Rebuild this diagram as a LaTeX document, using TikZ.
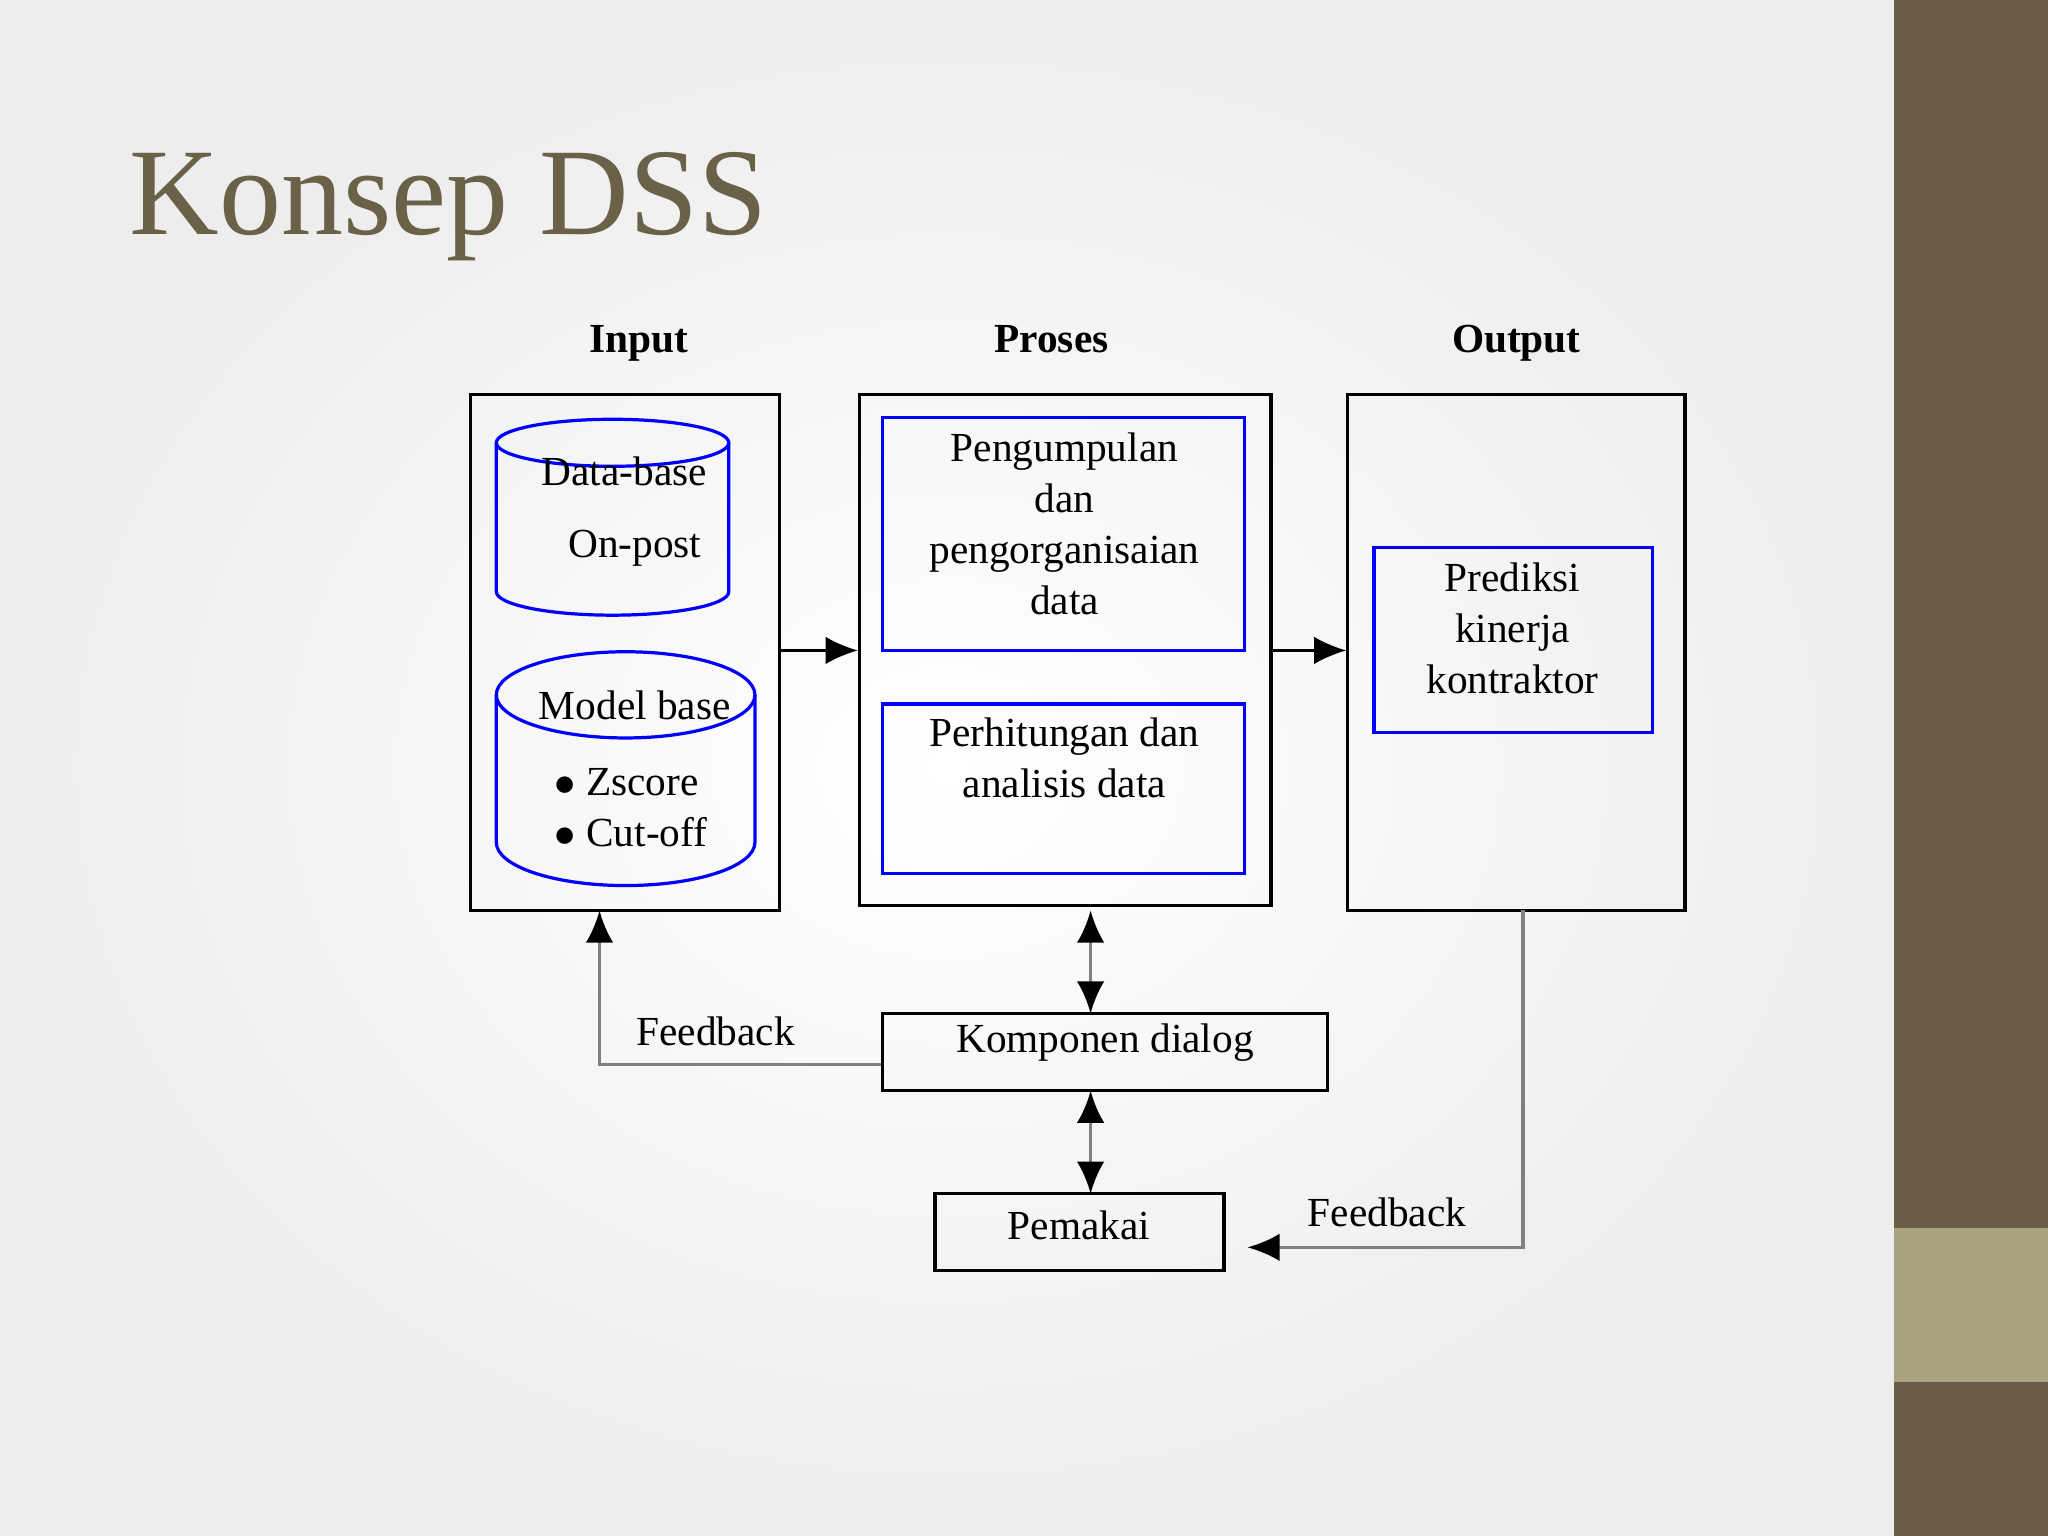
\documentclass[tikz,border=0pt]{standalone}
\usepackage{fontspec}
\setmainfont{Liberation Serif}
\usetikzlibrary{arrows.meta}
\definecolor{olive}{HTML}{6B5E48}
\definecolor{lolive}{HTML}{A9A27E}
\definecolor{ttl}{HTML}{6B6148}
\begin{document}
\begin{tikzpicture}[x=0.01cm,y=-0.01cm,
  box/.style={draw,line width=0.7pt,inner sep=0pt},
  bbox/.style={draw=blue,line width=0.7pt,inner sep=0pt},
  txt/.style={font=\fontsize{9}{11.1}\selectfont,align=center,inner sep=0pt},
  hdr/.style={font=\fontsize{9}{11}\selectfont\bfseries},
  arr/.style={line width=0.5pt,-{Latex[length=7pt,width=6pt]}},
  garr/.style={draw=gray,line width=0.8pt}]
\useasboundingbox (0,0) rectangle (1568,1176);
\shade[inner color=white,outer color=black!7] (0,0) rectangle (1450,1176);
\fill[olive] (1450,0) rectangle (1568,1176);
\fill[lolive] (1450,940) rectangle (1568,1058);
\node[anchor=west,text=ttl,font=\fontsize{27}{30}\selectfont] (title) at (87,158) {Konsep DSS};
\node[hdr,anchor=base] (hin) at (489,270) {Input};
\node[hdr,anchor=base] (hpr) at (805,270) {Proses};
\node[hdr,anchor=base] (hout) at (1161,270) {Output};
\node[box,minimum width=2.37cm,minimum height=3.95cm] (in) at (478.5,499.5) {};
\node[box,minimum width=3.15cm,minimum height=3.91cm] (pr) at (815.5,497.5) {};
\node[box,minimum width=2.58cm,minimum height=3.95cm] (out) at (1161,499.5) {};
% cylinders
\draw[blue,line width=0.7pt] (469,339) ellipse [x radius=89,y radius=18];
\draw[blue,line width=0.7pt] (380,339) -- (380,453) arc[start angle=180,end angle=0,x radius=89,y radius=18] -- (558,339);
\draw[blue,line width=0.7pt] (479,532) ellipse [x radius=99,y radius=33];
\draw[blue,line width=0.7pt] (380,532) -- (380,645) arc[start angle=180,end angle=0,x radius=99,y radius=33] -- (578,532);
\node[txt] (db) at (478,361) {Data-base};
\node[txt] (op) at (486,420) {On-post};
\node[txt] (mb) at (486,540) {Model base};
\node[txt,anchor=west] (zs) at (424,599) {$\bullet$ Zscore};
\node[txt,anchor=west] (co) at (424,637) {$\bullet$ Cut-off};
\node[bbox,minimum width=2.77cm,minimum height=1.78cm] (b1) at (814.5,409) {};
\node[bbox,minimum width=2.77cm,minimum height=1.30cm] (b2) at (814.5,604) {};
\node[bbox,minimum width=2.13cm,minimum height=1.42cm] (b3) at (1158.5,490) {};
\node[txt] at (815,401) {Pengumpulan\\dan\\pengorganisaian\\data};
\node[txt] at (815,580) {Perhitungan dan\\analisis data};
\node[txt] at (1158,481) {Prediksi\\kinerja\\kontraktor};
\node[box,minimum width=3.40cm,minimum height=0.59cm] (kd) at (846,805.5) {};
\node[txt] at (846,798) {Komponen dialog};
\node[box,minimum width=2.21cm,minimum height=0.59cm] (pm) at (826.5,943.5) {};
\node[txt] at (826,938) {Pemakai};
\draw[arr] (in.east |- 0,498) -- (pr.west |- 0,498);
\draw[arr] (pr.east |- 0,498) -- (out.west |- 0,498);
\draw[garr,{Latex[length=7pt,width=6pt,fill=black,color=black]}-{Latex[length=7pt,width=6pt,fill=black,color=black]}] (835,697) -- (835,776);
\draw[garr,{Latex[length=7pt,width=6pt,fill=black,color=black]}-{Latex[length=7pt,width=6pt,fill=black,color=black]}] (835,835) -- (835,914);
\coordinate (f1) at (459,815);
\draw[garr,-{Latex[length=7pt,width=6pt,fill=black,color=black]}] (kd.west |- 0,815) -- (f1) -- (459,697);
\node[txt] at (548,790) {Feedback};
\coordinate (f2) at (1166,955);
\coordinate (f3) at (955,955);
\draw[garr,-{Latex[length=7pt,width=6pt,fill=black,color=black]}] (1166,697) -- (f2) -- (f3);
\node[txt] at (1062,928) {Feedback};
\end{tikzpicture}
\end{document}
